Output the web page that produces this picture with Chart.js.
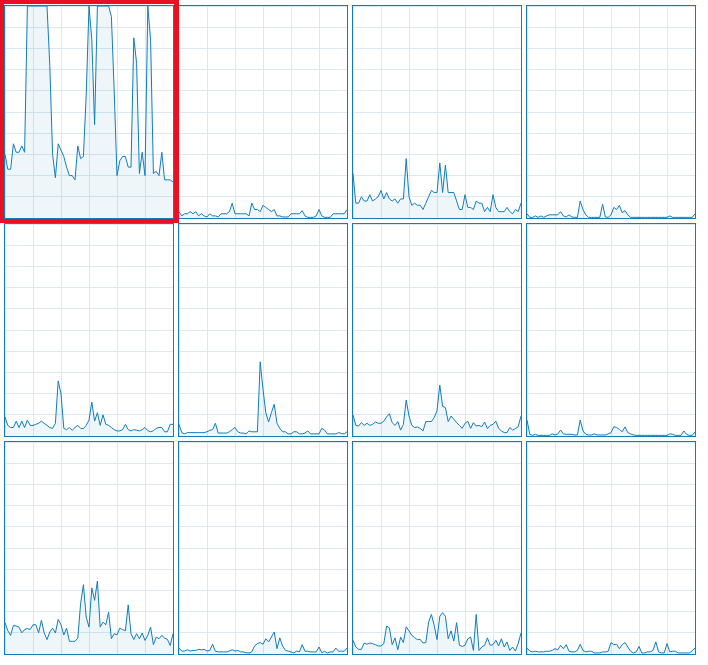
<!DOCTYPE html>
<html lang="en">
<head>
<meta charset="UTF-8">
<title>CPU - logical processors</title>
<script src="https://cdn.jsdelivr.net/npm/chart.js@4.4.1/dist/chart.umd.min.js"></script>
<style>
    body { margin: 0; background: #ffffff; }
    .panel { position: absolute; width: 170px; height: 214px; box-sizing: border-box;
             border: 1px solid rgb(17,125,187); background: #ffffff; }
    .panel canvas { display: block; }
    #selected { position: absolute; left: 0; top: 0; width: 179px; height: 223px; box-sizing: border-box;
                border: 4px solid rgb(232,17,35); border-right-width: 5px; pointer-events: none; }
</style>
</head>
<body>
<div id="grid"></div>
<div id="selected"></div>

<script>
    // utilisation per logical processor, % over the last 60 seconds (61 samples)
    const cpu0 = [30,23,23,35,31,31,34,31,100,100, 100,100,100,100,100,100,72,30,19,35, 32,29,24,20,20,18,34,28,29,58, 100,84,44,100,100,100,100,100,95,60, 20,27,29,29,24,24,85,73,21,31, 20,100,84,21,22,20,31,18,18,18, 17];
    const cpu1 = [3,1,2,2,3,2,3,1,2,1, 0.5,2,1,1,0.5,2,2,2,3,7, 2,2,2,2,2,1,7,4,4,3, 6,5,4,3,4,1,1,0.5,0.5,0.5, 2,2,2,2,3.5,1,0.3,0.3,0.3,1, 4,1,0.3,0.3,0.3,2,2,2,2,2, 4];
    const cpu2 = [21,7,7,10,8,8,11,8,9,10, 13,9,12,9,8,9,7,9,9,28, 10,6,7,6,6,4,7,10,13,12, 12,26,12,25,12,12,12,8,4,4, 11,5,5,4,8,7,7,3,5,3, 11,5,3,3,3,5,3,2,4,3, 7];
    const cpu3 = [2,0.3,0.3,1,0.3,1,0.3,1,1.5,1.5, 1.5,1.5,3,1,0.5,1.5,0.5,0.3,0.3,8, 4,1.5,0.3,0.3,0.3,0.3,0.3,6.5,0.5,0.3, 1.5,5,4,6,2.5,3.5,1.5,0.3,0.3,0.3, 0.3,0.3,0.3,0.3,0.3,0.3,0.3,0.3,0.3,0.3, 0.3,1,0.3,0.3,0.3,0.3,0.3,0.3,0.3,0.3, 2];
    const cpu4 = [9,5,4,4,7,4,7,4,7.5,5, 5,5.5,6,7,6,5,4,3.6,6,26, 20,3.6,3,4,2.7,4,5,3.6,3.5,5, 7.5,16,7,11,5,10,5.5,5,4,3, 2.4,2.4,3,5.5,3,2.4,3,2.7,2.4,3, 4,2.5,2,2.5,3.6,4,4,2,2,5.5, 5.5];
    const cpu5 = [5.5,1.6,1,1.6,1.6,1.6,1.6,1.6,1.6,1.6, 2,2.7,3,6,1.4,1.4,1.4,1.4,2,3, 4,2,1.4,1.4,1,2.4,2,2,2,35, 22,11,6.6,11,15,6,3.6,2,2,1, 1,2,2,1,1,1.4,2.4,1,1,1, 1,3.6,2.8,1,1,1,1,1.6,1.2,1, 2];
    const cpu6 = [10,5,4.7,6.3,5,6,5,5.5,6.6,6, 6,7,9,10.5,6.3,5,6.8,2.8,5.5,17, 9.4,5,4,4.3,3.6,2.4,6.8,6.8,6.8,8.7, 12,24,14,13.4,6.8,9.4,7.9,6.3,5,3.6, 6,7,3.6,6.3,4.7,5,4.4,6.6,3.5,5, 5.5,7,3.6,2.4,1.6,1.6,4,2.8,3.5,4.4, 9.4];
    const cpu7 = [7.5,0.8,0.3,0.8,0.3,0.3,0.3,0.3,0.3,1, 0.5,1,2.8,1,0.8,0.8,0.8,0.5,0.5,7.5, 2.4,0.8,0.5,0.5,1,0.5,0.5,0.5,0.5,1, 1.6,4.4,4,3.1,2,4.3,1.6,1,0.5,0.3, 0.3,0.3,0.3,0.3,0.3,0.3,0.3,0.3,0.3,0.3, 0.3,1,0.8,0.3,0.3,0.3,2.4,0.8,0.3,0.3, 1.9];
    const cpu8 = [14.8,11,8.8,13.5,13.2,12.7,10,11.5,12,11.6, 13.8,13.8,10,15.9,10,6.8,10.4,12.2,9.9,16.3, 13.8,9,12.2,6,6,6,7.5,23.7,32.7,17.4, 12.7,31.2,25.3,34.4,12.7,15,13.8,19.8,7.2,9.6, 9,12.2,11.5,11,23.2,9.6,6.8,9.6,7.2,9.9, 6.4,8.8,12.7,4.4,8,7.2,8.8,7.5,6.9,4, 9.6];
    const cpu9 = [2.8,1.4,1.4,2,1.4,1.7,1.7,2.2,2,2.2, 1.4,1.7,4.6,1.3,1,1,1,1,1.4,2, 1.4,1.7,1,1,0.6,0.5,1,3.8,4.9,5.4, 4.6,7.2,5.7,8,10.4,2.5,7.6,3.8,1.7,1.4, 1,0.5,1.4,1,4.4,1.3,1.3,1,1,1, 3.3,0.6,1.3,0.5,1,1,2.8,1.3,1.4,1.3, 2.8];
    const cpu10 = [6.5,3.3,2.2,2.2,5.2,4.6,5.2,4.9,4.4,3.8, 3.8,4.9,13.2,12.3,4.4,7.6,2,8,5.4,12.8, 10.9,8.8,7.7,6.8,6.9,5.2,5.4,15,18.7,13.5, 6.8,17.8,19.5,17.8,7.2,10.9,6.1,14.8,4.1,3.6, 4.1,7.2,8,1.7,18.7,1.7,3.3,4.1,7.6,4.1, 4.4,6.5,3.8,7.2,3.3,5.7,1.7,3.3,1.4,5, 9.9];
    const cpu11 = [2.8,1.4,1,1.3,1,1,1,1.3,1.3,1.7, 2.5,2,4.1,2.5,4.4,1.3,1,1,1.7,4.6, 1.7,1,1.3,1.3,0.5,0.5,0.5,1,1,1.3, 5.4,4.4,4.6,2.5,4.4,5.4,3.3,1.3,0.5,1, 3.6,0.5,0.5,1,1,1.7,5.7,1,0.5,0.5, 4.9,1,1.3,1.3,0.5,0.5,0.5,0.5,0.5,1.5, 2.8];

    const processors = [cpu0, cpu1, cpu2, cpu3, cpu4, cpu5, cpu6, cpu7, cpu8, cpu9, cpu10, cpu11];

    const lineColor = "rgb(17,125,187)";
    const fillColor = "rgba(17,125,187,0.07)";
    const gridColor = "rgb(217,234,244)";

    function makePanel(values, i) {
        let col = i % 4;
        let row = Math.floor(i / 4);

        let div = document.createElement("div");
        div.className = "panel";
        div.style.left = (4 + col * 174) + "px";
        div.style.top = (5 + row * 218) + "px";

        let canvas = document.createElement("canvas");
        canvas.width = 168;
        canvas.height = 212;
        div.appendChild(canvas);
        document.getElementById("grid").appendChild(div);

        // one point per second, x = seconds
        let points = values.map(function (v, s) { return {x: s, y: v}; });

        new Chart(canvas.getContext("2d"), {
            type: "line",
            data: {
                datasets: [{
                    data: points,
                    borderColor: lineColor,
                    borderWidth: 1,
                    backgroundColor: fillColor,
                    fill: "origin",
                    pointRadius: 0,
                    tension: 0
                }]
            },
            options: {
                responsive: false,
                animation: false,
                devicePixelRatio: 1,
                layout: { padding: 0 },
                plugins: { legend: { display: false }, tooltip: { enabled: false } },
                scales: {
                    x: {
                        type: "linear",
                        min: 0,
                        max: 60,
                        ticks: { display: false, stepSize: 10 },
                        grid: { color: gridColor, drawTicks: false },
                        border: { display: false }
                    },
                    y: {
                        min: 0,
                        max: 100,
                        ticks: { display: false, stepSize: 10 },
                        grid: { color: gridColor, drawTicks: false },
                        border: { display: false }
                    }
                }
            }
        });
    }

    processors.forEach(makePanel);
</script>
</body>
</html>
